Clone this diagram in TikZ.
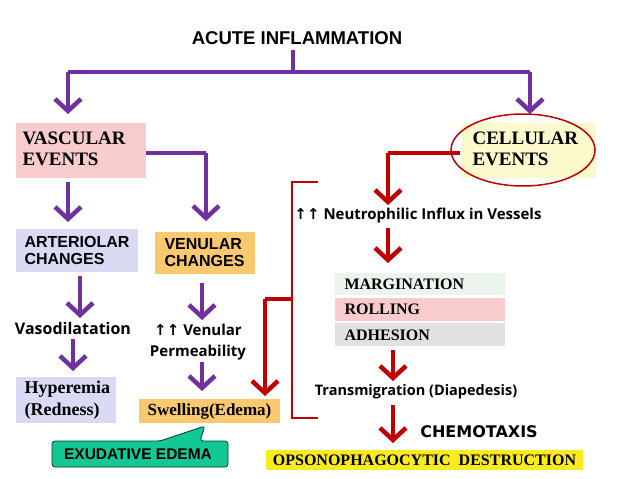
\documentclass[tikz,border=0pt]{standalone}
\usepackage{fontspec}
\setmainfont{Liberation Serif}
\newfontfamily\sans{Liberation Sans}
\newfontfamily\opsans{Open Sans}
\newfontfamily\djv{DejaVu Sans}
\usetikzlibrary{arrows.meta,shapes.callouts}
\definecolor{pur}{RGB}{112,48,160}
\definecolor{rd}{RGB}{192,0,0}
\definecolor{pk}{RGB}{248,204,204}
\definecolor{lav}{RGB}{218,218,245}
\definecolor{org}{RGB}{250,200,110}
\definecolor{lyel}{RGB}{252,250,205}
\definecolor{mg}{RGB}{235,245,238}
\definecolor{gr}{RGB}{225,225,225}
\definecolor{yl}{RGB}{250,235,30}
\definecolor{grn}{RGB}{20,200,150}
\newcommand{\upp}{{\djv\symbol{"2191}\symbol{"2191}}}
\begin{document}
\begin{tikzpicture}[x=1pt,y=-1pt,
  pa/.style={draw=pur,line width=4.5pt,-{Straight Barb[length=12pt,width=26pt]}},
  ra/.style={draw=rd,line width=4.5pt,-{Straight Barb[length=12pt,width=26pt]}},
  pl/.style={draw=pur,line width=4.5pt},
  sb/.style={font=\sans\bfseries\fontsize{16}{17}\selectfont,align=left},
  ob/.style={font=\opsans\bfseries\fontsize{16}{20}\selectfont,align=center},
  rb/.style={font=\bfseries\fontsize{19}{21}\selectfont,align=left},
  cb/.style={font=\bfseries\fontsize{16}{18}\selectfont}]
\useasboundingbox (0,0) rectangle (638,479);
\fill[white] (0,0) rectangle (638,479);
% title
\node[font=\sans\bfseries\fontsize{18.5}{20}\selectfont] (t) at (297,38) {ACUTE INFLAMMATION};
\coordinate (tb) at (293,72);
\coordinate (vt) at (68,72);
\coordinate (ct) at (530,72);
\draw[pl] (293,50) -- (tb);
\draw[pl] (vt) -- (ct);
% vascular / cellular
\fill[pk] (16,123) rectangle (146,178);
\node[rb,anchor=west] (vas) at (19,149) {VASCULAR\\EVENTS};
\fill[lyel] (462,123) rectangle (596,178);
\node[rb,anchor=west] (cel) at (469,149) {CELLULAR\\EVENTS};
\draw[rd,line width=1.5pt] (523,150) ellipse (72 and 36);
\draw[pa] (vt) -- (68,114);
\draw[pa] (ct) -- (530,114);
% vascular branch
\coordinate (vr) at (206,153);
\draw[pl] (146,153) -- (vr);
\draw[pa] (vr) -- (206,221);
\draw[pa] (68,182) -- (68,222);
\fill[lav] (16,229) rectangle (138,272);
\node[sb,anchor=west] (art) at (21,250.5) {ARTERIOLAR\\CHANGES};
\fill[org] (155,232) rectangle (255,274);
\node[sb,anchor=west] (ven) at (161,253) {VENULAR\\CHANGES};
\draw[pa] (80,276) -- (80,318);
\node[ob] (vaso) at (73,328) {Vasodilatation};
\draw[pa] (73,339) -- (73,371);
\fill[lav] (16,377) rectangle (116,423);
\node[font=\bfseries\fontsize{18}{22}\selectfont,align=left,anchor=west] (hyp) at (21,400) {Hyperemia\\(Redness)};
\draw[pa] (202,283) -- (202,320);
\node[ob,font=\opsans\bfseries\fontsize{15}{21}\selectfont] (perm) at (198,342) {\upp\ Venular\\Permeability};
\draw[pa] (202,362) -- (202,391);
\fill[org] (139,399) rectangle (280,423);
\node[font=\bfseries\fontsize{17}{19}\selectfont] (sw) at (209.5,411) {Swelling(Edema)};
\fill[grn,draw=black!70!grn,line width=0.8pt,rounded corners=3pt]
  (52,441) -- (160,441) -- (205,426) -- (200,441) -- (228,441) -- (228,467) -- (52,467) -- cycle;
\node[font=\sans\bfseries\fontsize{15.5}{17}\selectfont] (ex) at (138,454) {EXUDATIVE EDEMA};
% red bracket
\draw[rd,line width=2.5pt] (318,182) -- (292,182) -- (292,418) -- (318,418);
\coordinate (bm) at (265,299);
\draw[rd,line width=4.5pt] (292,299) -- (bm);
\draw[ra] (bm) -- (265,396);
% cellular branch
\coordinate (cl) at (388,153);
\draw[rd,line width=4.5pt] (460,153) -- (cl);
\draw[ra] (cl) -- (388,205);
\node[ob,font=\opsans\bfseries\fontsize{15}{18}\selectfont] (neu) at (418,216) {\upp\ Neutrophilic Influx in Vessels};
\draw[ra] (388,228) -- (388,263);
\fill[mg] (335,273) rectangle (505,295);
\fill[pk] (335,298) rectangle (505,321);
\fill[gr] (335,323) rectangle (505,346);
\node[cb,anchor=west] (mar) at (341,284) {MARGINATION};
\node[cb,anchor=west] (rol) at (341,309.5) {ROLLING};
\node[cb,anchor=west] (adh) at (341,335) {ADHESION};
\draw[ra] (393,350) -- (393,381);
\node[ob,font=\opsans\bfseries\fontsize{14.5}{18}\selectfont] (tr) at (416,392) {Transmigration (Diapedesis)};
\draw[ra] (393,405) -- (393,443);
\node[font=\djv\bfseries\fontsize{16}{18}\selectfont] (che) at (479,432) {CHEMOTAXIS};
\fill[yl] (266,450) rectangle (583,470);
\node[font=\bfseries\fontsize{16}{18}\selectfont] (ops) at (424.5,460) {OPSONOPHAGOCYTIC\ \ DESTRUCTION};
\end{tikzpicture}
\end{document}
